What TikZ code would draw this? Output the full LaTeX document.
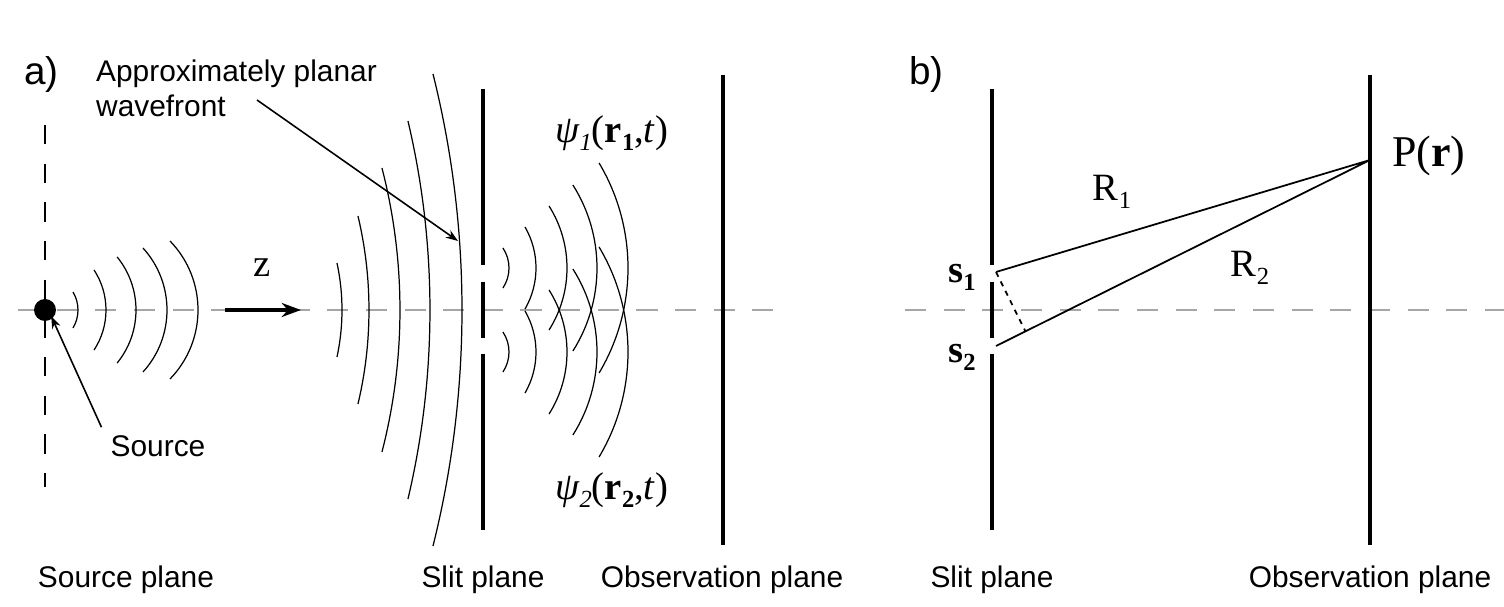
\documentclass[tikz,border=0pt]{standalone}
\usepackage{fontspec}
\setmainfont{Liberation Sans}
\newfontfamily\serif{Liberation Serif}
\usetikzlibrary{arrows.meta}
\newcommand\wavearc[4]{%
 \pgfmathsetmacro\wa{asin(#4/#3)}%
 \draw[wave] (#1,#2) ++(-#3,0) ++(-\wa:#3) arc[start angle=-\wa, end angle=\wa, radius=#3];}
\newcommand\sub[1]{\raisebox{-0.45ex}{\fontsize{14}{14}\selectfont #1}}
\begin{document}
\begin{tikzpicture}[x=0.02cm,y=-0.02cm,
 wave/.style={line width=0.7pt},
 wall/.style={line width=2.4pt},
 axis/.style={gray!70,line width=0.7pt,dash pattern=on 12pt off 10pt},
 lbl/.style={font=\fontsize{17}{20}\selectfont},
 big/.style={font=\fontsize{22}{24}\selectfont},
 ser/.style={font=\serif\fontsize{22}{26}\selectfont},
 ptr/.style={line width=0.9pt,-{Stealth[length=7pt,width=5pt]}}]
\useasboundingbox (0,0) rectangle (1504,607);
% axes
\draw[axis] (18,310) -- (790,310);
\draw[axis] (905,310) -- (1504,310);
% source plane
\draw[line width=1.2pt,dash pattern=on 11pt off 11pt] (45,125) -- (45,487);
\fill (45,310) circle (11) node (src) {};
\node[big,anchor=west] (a) at (18,75) {a)};
\node[big,anchor=west] (b) at (903,75) {b)};
% source waves
\wavearc{78}{310}{35}{18}
\wavearc{106}{310}{73}{40}
\wavearc{136}{310}{84}{53}
\wavearc{167}{310}{92}{62}
\wavearc{198}{310}{99}{69}
% z arrow
\coordinate (z0) at (225,310); \coordinate (z1) at (301,310);
\draw[line width=2pt,-{Stealth[length=11pt,width=8pt]}] (z0) -- (z1);
\node[ser] (z) at (262,268) {z};
% big wavefronts
\wavearc{342}{310}{223}{47}
\wavearc{369}{310}{407}{94}
\wavearc{400}{310}{569}{142}
\wavearc{430}{310}{823}{189}
\wavearc{462}{310}{975}{236}
% slit plane a
\draw[wall] (483,89) -- (483,265);
\draw[wall] (483,282) -- (483,338);
\draw[wall] (483,354) -- (483,530);
% slit waves
\foreach \c in {268,352}{
 \wavearc{509}{\c}{36}{20}
 \wavearc{536}{\c}{82}{41}
 \wavearc{567}{\c}{116}{62}
 \wavearc{597}{\c}{155}{83}
 \wavearc{628}{\c}{205}{105}
}
% observation plane a
\draw[wall] (723,75) -- (723,545);
% labels a
\node[lbl,anchor=west,align=left] (apw) at (90,88) {Approximately planar\\wavefront};
\coordinate (apws) at (257,100);
\coordinate (apwe) at (458,241);
\draw[ptr] (apws) -- (apwe);
\node[lbl] (srcl) at (158,446) {Source};
\draw[ptr] (srcl.north west) ++(-3,-2) coordinate (s0) (s0) -- (src.south east);
\node[ser] (psi1) at (612,133) {\itshape ψ\sub{1}\upshape(\textbf{r}\sub{\bfseries 1},\textit{t})};
\node[ser] (psi2) at (612,490) {\itshape ψ\sub{2}\upshape(\textbf{r}\sub{\bfseries 2},\textit{t})};
\node[lbl] (l1) at (126,580) {Source plane};
\node[lbl] (l2) at (483,580) {Slit plane};
\node[lbl] (l3) at (722,580) {Observation plane};
% panel b
\draw[wall] (992,89) -- (992,265);
\draw[wall] (992,282) -- (992,338);
\draw[wall] (992,354) -- (992,530);
\draw[wall] (1370,75) -- (1370,545);
\coordinate (s1) at (996,272);
\coordinate (s2) at (996,346);
\coordinate (P) at (1370,160);
\coordinate (ft) at (1025.5,331.5);
\draw[line width=1pt] (s1) -- (P) -- (s2);
\draw[line width=1pt,dashed] (s1) -- (ft);
\node[ser] (r1) at (1112,192) {R\sub{1}};
\node[ser] (r2) at (1250,268) {R\sub{2}};
\node[ser] (sl1) at (962,277) {\textbf{s}\sub{\bfseries 1}};
\node[ser] (sl2) at (962,357) {\textbf{s}\sub{\bfseries 2}};
\node[ser,anchor=west,font=\serif\fontsize{25}{28}\selectfont] (pr) at (1386,156) {P(\textbf{r})};
\node[lbl] (l4) at (992,580) {Slit plane};
\node[lbl] (l5) at (1370,580) {Observation plane};
\end{tikzpicture}
\end{document}
